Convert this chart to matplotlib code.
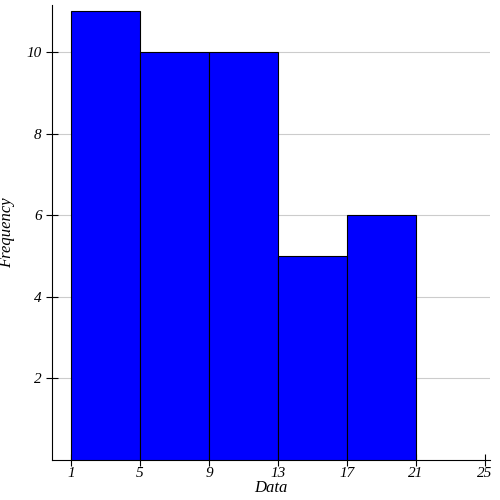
import matplotlib
matplotlib.use("Agg")
import matplotlib.pyplot as plt

bin_edges = [1, 5, 9, 13, 17, 21]
counts = [11, 10, 10, 5, 6]
xticks = [1, 5, 9, 13, 17, 21, 25]
yticks = [2, 4, 6, 8, 10]

plt.rcParams['font.family'] = ['Liberation Serif', 'DejaVu Serif']
fig = plt.figure(figsize=(5, 5), dpi=100)
ax = fig.add_axes([0.104, 0.08, 0.876, 0.91])
lefts = bin_edges[:-1]
widths = [b - a for a, b in zip(bin_edges[:-1], bin_edges[1:])]
ax.bar(lefts, counts, width=widths, align='edge', color='#0000ff', edgecolor='#000000', linewidth=0.8, zorder=3)
ax.set_xlim(-0.1, 25.3)
ax.set_ylim(0, 11.15)
ax.set_xticks(xticks)
ax.set_yticks(yticks)
ax.set_xticklabels([str(t) for t in xticks], fontstyle='italic', fontsize=11)
ax.set_yticklabels([str(t) for t in yticks], fontstyle='italic', fontsize=11)
ax.yaxis.grid(True, color='#cccccc', linewidth=0.8, zorder=0)
ax.tick_params(direction='inout', length=8, width=0.8)
ax.tick_params(axis='x', pad=1)
for s in ['top', 'right']:
    ax.spines[s].set_visible(False)
ax.set_xlabel('Data', fontstyle='italic', fontsize=12, labelpad=0)
ax.set_ylabel('Frequency', fontstyle='italic', fontsize=12, labelpad=8)
fig.savefig('out.png')
